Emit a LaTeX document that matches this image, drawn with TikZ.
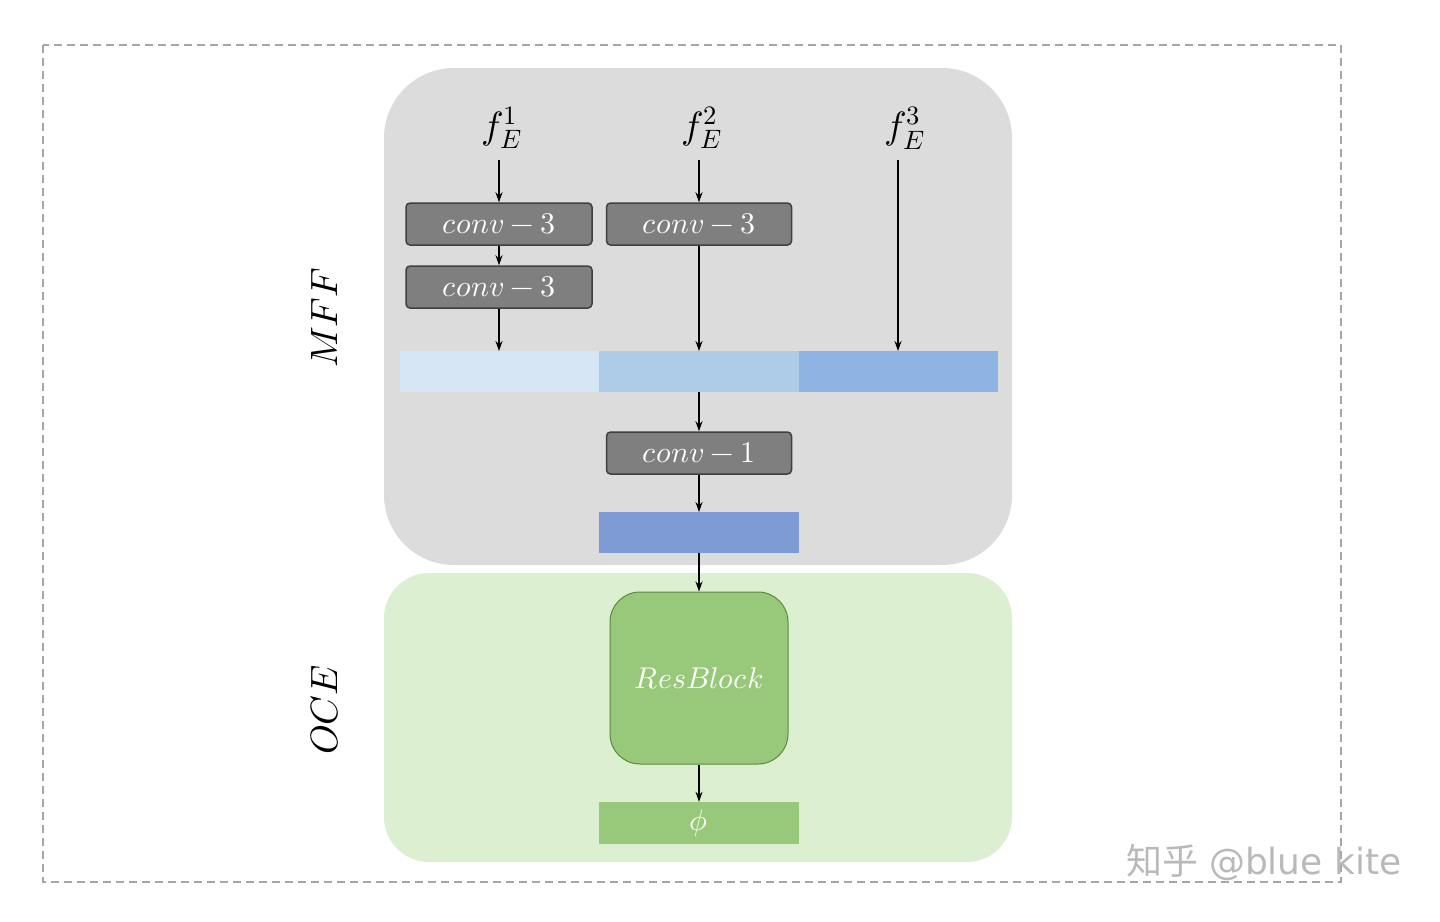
\documentclass[tikz,border=0pt]{standalone}
\usepackage{fontspec}
\usepackage{unicode-math}
\setmathfont{Latin Modern Math}
\newfontfamily\cjk{Noto Sans CJK SC}
\newfontfamily\wmfont{DejaVu Sans}
\usetikzlibrary{arrows.meta}
\definecolor{regg}{HTML}{DCDCDC}
\definecolor{regn}{HTML}{DDEFD1}
\definecolor{convf}{HTML}{7F7F7F}
\definecolor{convd}{HTML}{404040}
\definecolor{bA}{HTML}{D6E6F4}
\definecolor{bB}{HTML}{AECBE8}
\definecolor{bC}{HTML}{8DB4E2}
\definecolor{bD}{HTML}{7F9BD6}
\definecolor{gr}{HTML}{98C97A}
\definecolor{grd}{HTML}{5A8A40}
\begin{document}
\begin{tikzpicture}[x=1pt,y=-1pt,
  conv/.style={draw=convd,line width=1.5pt,fill=convf,rounded corners=4pt,text=white,font=\fontsize{30}{36}\selectfont},
  arr/.style={-{Stealth[length=10pt,width=7pt]},line width=1.2pt},
  lab/.style={font=\fontsize{38}{42}\selectfont}]
\useasboundingbox (0,0) rectangle (1440,921);
\draw[gray!70,line width=1.5pt,dash pattern=on 8pt off 5pt] (43,45) rectangle (1341,882);
\fill[regg,rounded corners=70pt] (384,68) rectangle (1012,565);
\fill[regn,rounded corners=45pt] (384,573) rectangle (1012,862);
\node[lab] (f1) at (502,128) {$f_E^1$};
\node[lab] (f2) at (702,128) {$f_E^2$};
\node[lab] (f3) at (905,128) {$f_E^3$};
\node[conv,minimum width=186pt,minimum height=42pt] (c1) at (499,224) {$conv-3$};
\node[conv,minimum width=186pt,minimum height=42pt] (c2) at (499,287) {$conv-3$};
\node[conv,minimum width=185pt,minimum height=42pt] (c3) at (699,224) {$conv-3$};
\node[conv,minimum width=185pt,minimum height=42pt] (c4) at (699,453) {$conv-1$};
\fill[bA] (400,351) rectangle (599,392);
\fill[bB] (599,351) rectangle (799,392);
\fill[bC] (799,351) rectangle (998,392);
\fill[bD] (599,512) rectangle (799,553);
\coordinate (b1) at (499,351); \coordinate (b2) at (699,351); \coordinate (b3) at (898,351);
\coordinate (b2b) at (699,392); \coordinate (b4t) at (699,512); \coordinate (b4b) at (699,553);
\coordinate (s1) at (499,160); \coordinate (s2) at (699,160); \coordinate (s3) at (898,160);
\node[draw=grd,line width=1pt,fill=gr,rounded corners=30pt,minimum width=178pt,minimum height=172pt,text=white,font=\fontsize{30}{36}\selectfont] (rb) at (699,678) {$ResBlock$};
\node[fill=gr,minimum width=200pt,minimum height=42pt,inner sep=0pt,text=white,font=\fontsize{30}{36}\selectfont] (phi) at (699,823) {$\phi$};
\draw[arr] (s1) -- (c1.north);
\draw[arr] (c1.south) -- (c2.north);
\draw[arr] (c2.south) -- (b1);
\draw[arr] (s2) -- (c3.north);
\draw[arr] (c3.south) -- (b2);
\draw[arr] (s3) -- (b3);
\draw[arr] (b2b) -- (c4.north);
\draw[arr] (c4.south) -- (b4t);
\draw[arr] (b4b) -- (rb.north);
\draw[arr] (rb.south) -- (phi.north);
\node[rotate=90,font=\fontsize{38}{42}\selectfont] (mff) at (325,318) {$MFF$};
\node[rotate=90,font=\fontsize{38}{42}\selectfont] (oce) at (325,710) {$OCE$};
\node[text=gray!55,font=\fontsize{36}{40}\selectfont,anchor=east] (wm) at (1405,862) {{\cjk 知乎} {\wmfont @blue kite}};
\end{tikzpicture}
\end{document}
